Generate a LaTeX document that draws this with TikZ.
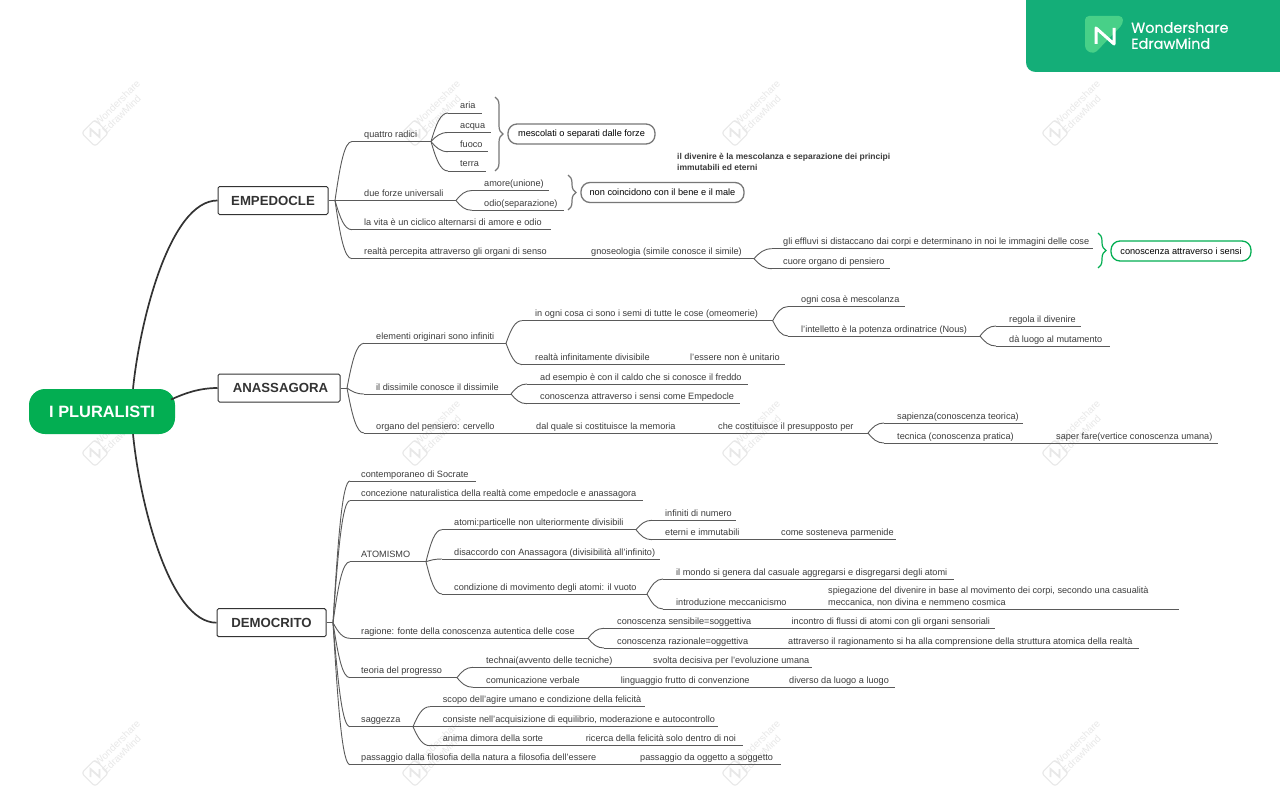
\documentclass[tikz,border=0pt]{standalone}
\usepackage{fontspec}
\usepackage{xcolor}
\usepackage{tikz}
\usetikzlibrary{calc,decorations.pathreplacing}
\setmainfont{Liberation Sans}
\newfontfamily\brandfont[FakeBold=0.35]{Poppins}
\definecolor{rootgreen}{HTML}{03AE52}
\definecolor{bannergreen}{HTML}{14AE78}
\definecolor{logogreen}{HTML}{48D088}
\definecolor{trunk}{HTML}{333333}
\definecolor{branch}{HTML}{5A5A5A}
\definecolor{lbltext}{HTML}{3C3C3C}
\definecolor{boxline}{HTML}{777777}
\definecolor{wmgray}{HTML}{E8E8E8}
\tikzset{
  rootBox/.style={rectangle, rounded corners=16pt, fill=rootgreen, text=white, minimum width=146, minimum height=45, inner sep=0pt, font=\fontsize{16.4}{20}\selectfont\bfseries},
  mainBox/.style={rectangle, draw=trunk, fill=white, rounded corners=1.5pt, line width=1pt, minimum height=28, inner sep=0pt, text=trunk, font=\fontsize{13.2}{15}\selectfont\bfseries},
  trunkLine/.style={draw=trunk, line width=1.7pt},
  branchLine/.style={draw=branch, line width=0.9pt},
  topicLbl/.style={anchor=base west, inner sep=0pt, text=lbltext, align=left, font=\fontsize{9.15}{11.5}\selectfont},
  sumBox/.style={rectangle, draw=boxline, rounded corners=9pt, line width=1.3pt, minimum height=20, inner sep=0pt, font=\fontsize{9.2}{11}\selectfont},
  noteLbl/.style={anchor=north west, inner sep=0pt, text=lbltext, align=left, font=\fontsize{8.5}{10.6}\selectfont\bfseries},
  bracket/.style={draw=#1, line width=1.2pt, decorate, decoration={brace, amplitude=8pt}},
  wmLbl/.style={rotate=45, text=wmgray, align=left, inner sep=0pt, font=\fontsize{10}{11}\selectfont},
  wmLogo/.style={rectangle, draw=wmgray, rotate=45, rounded corners=3pt, line width=1.1pt, minimum size=19, inner sep=0pt},
  wmMark/.style={draw=wmgray, line width=1.8pt},
}
\newcommand{\Topic}[6]{%
  \coordinate (#1-s) at (#2,#5);
  \coordinate (#1-e) at (#4,#5);
  \draw[branchLine] (#1-s) -- (#1-e);
  \node[topicLbl] (#1) at (#3,#5-4) {#6};
}
\newcommand{\Fork}[2]{%
  \draw[branchLine] let \p1=(#1), \p2=(#2) in (\p1)
    .. controls ({\x1+0.3*(\x2-\x1)},{\y1+0.6*(\y2-\y1)}) and ({\x1+0.55*(\x2-\x1)},\y2) .. (\p2);
}
\begin{document}
\begin{tikzpicture}[x=1pt, y=-1pt]
  \useasboundingbox (0,0) rectangle (1280,789);
  \fill[white] (0,0) rectangle (1280,789);

  % watermarks
  \foreach \wx in {95,415,735,1055} {
    \foreach \wy in {133,453,773} {
      \node[wmLogo] (wmL-\wx-\wy) at (\wx,\wy) {};
      \draw[wmMark] ($(wmL-\wx-\wy)+(-4.5,4)$) -- ($(wmL-\wx-\wy)+(-4.5,-4)$) -- ($(wmL-\wx-\wy)+(4.5,4)$) -- ($(wmL-\wx-\wy)+(4.5,-4)$);
      \node[wmLbl] (wmT-\wx-\wy) at (\wx+26,\wy-26) {Wondershare\\EdrawMind};
    }
  }

  % banner
  \fill[bannergreen] (1026,0) -- (1026,62) .. controls (1026,68) and (1030,72) .. (1036,72) -- (1280,72) -- (1280,0) -- cycle;
  \fill[logogreen, rounded corners=4pt] (1085,16) -- (1123,16) -- (1123,24) -- (1094,54) -- (1085,50) -- cycle;
  \draw[white, line width=3pt, line join=round] (1096,44) -- (1096,28) -- (1114,44) -- (1114,28);
  \node[anchor=west, inner sep=0pt, text=white, align=left, font=\brandfont\fontsize{14.4}{16}\selectfont] (brand) at (1131,35.5) {Wondershare\\EdrawMind};

  % center and main topics
  \node[rootBox] (root) at (102,411.5) {I PLURALISTI};
  \node[mainBox, minimum width=110] (emp) at (273,200.5) {EMPEDOCLE};
  \node[mainBox, minimum width=122] (ana) at (279,388) {\hspace{3pt}ANASSAGORA};
  \node[mainBox, minimum width=109] (dem) at (271.5,622.7) {DEMOCRITO};
  \draw[trunkLine] ($(root.north)+(31,0)$) .. controls (140,320) and (170,200.5) .. (emp.west);
  \draw[trunkLine] ($(root.east)+(-4,-12)$) .. controls (185,393) and (200,388) .. (ana.west);
  \draw[trunkLine] ($(root.south)+(31,0)$) .. controls (140,505) and (170,622.7) .. (dem.west);

  % EMPEDOCLE
  \coordinate (empF) at (335,200.5);
  \draw[branchLine] (emp.east) -- (empF);
  \Topic{radici}{352}{364}{431}{141.5}{quattro radici}
  \Topic{aria}{448}{460}{482}{113}{aria}
  \Topic{acqua}{448}{460}{491}{132.5}{acqua}
  \Topic{fuoco}{448}{460}{488}{151.7}{fuoco}
  \Topic{terra}{448}{460}{486}{171}{terra}
  \Topic{forze}{335}{364}{456}{200.5}{due forze universali}
  \Topic{amore}{472}{484}{549}{190.5}{amore(unione)}
  \Topic{odio}{472}{484}{564}{210.3}{odio(separazione)}
  \Topic{vita}{352}{364}{551}{229.7}{la vita è un ciclico alternarsi di amore e odio}
  \Topic{realta}{352}{364}{585}{258.7}{realtà percepita attraverso gli organi di senso}
  \Topic{gnoseo}{585}{591}{754}{258.7}{gnoseologia (simile conosce il simile)}
  \Topic{effluvi}{772}{783}{1093}{248.7}{gli effluvi si distaccano dai corpi e determinano in noi le immagini delle cose}
  \Topic{cuore}{772}{783}{890}{268.7}{cuore organo di pensiero}
  \Fork{empF}{radici-s}
  \Fork{empF}{vita-s}
  \Fork{empF}{realta-s}
  \Fork{radici-e}{aria-s}
  \Fork{radici-e}{acqua-s}
  \Fork{radici-e}{fuoco-s}
  \Fork{radici-e}{terra-s}
  \Fork{forze-e}{amore-s}
  \Fork{forze-e}{odio-s}
  \Fork{gnoseo-e}{effluvi-s}
  \Fork{gnoseo-e}{cuore-s}
  \node[noteLbl] (divenire) at (677,153.5) {il divenire è la mescolanza e separazione dei principi\\immutabili ed eterni};

  \coordinate (brA1) at (495,97);
  \coordinate (brA2) at (495,171);
  \coordinate (brB1) at (568,175);
  \coordinate (brB2) at (568,210);
  \coordinate (brC1) at (1098,233);
  \coordinate (brC2) at (1098,268);
  \draw[bracket=boxline] (brA1) -- (brA2);
  \draw[bracket=boxline] (brB1) -- (brB2);
  \draw[bracket=rootgreen] (brC1) -- (brC2);
  \node[sumBox, minimum width=147] (mesc) at (581.5,134) {mescolati o separati dalle forze};
  \node[sumBox, minimum width=163] (nonco) at (662.5,192.5) {non coincidono con il bene e il male};
  \node[sumBox, draw=rootgreen, minimum width=140] (cono) at (1181,251) {conoscenza attraverso i sensi};

  % ANASSAGORA
  \coordinate (anaF) at (347,388);
  \draw[branchLine] (ana.east) -- (anaF);
  \Topic{elem}{364}{376}{506}{343.3}{elementi originari sono infiniti}
  \Topic{semi}{522}{535}{772.7}{320.7}{in ogni cosa ci sono i semi di tutte le cose (omeomerie)}
  \Topic{ogni}{788}{801}{905}{306.6}{ogni cosa è mescolanza}
  \Topic{intel}{788}{801}{980}{336}{l'intelletto è la potenza ordinatrice (Nous)}
  \Topic{regola}{996}{1009}{1081}{326}{regola il divenire}
  \Topic{luogo}{996}{1009}{1110}{346}{dà luogo al mutamento}
  \Topic{divis}{522}{535}{685}{364.7}{realtà infinitamente divisibile}
  \Topic{unit}{685}{690}{784.5}{364.7}{l'essere non è unitario}
  \Topic{diss}{364}{376}{511}{394}{il dissimile conosce il dissimile}
  \Topic{esem}{527}{540}{748}{384}{ad esempio è con il caldo che si conosce il freddo}
  \Topic{attr}{527}{540}{739.5}{403.7}{conoscenza attraverso i sensi come Empedocle}
  \Topic{organo}{364}{376}{530}{433}{organo del pensiero: cervello}
  \Topic{memo}{530}{536}{712}{433}{dal quale si costituisce la memoria}
  \Topic{pres}{712}{718}{868}{433}{che costituisce il presupposto per}
  \Topic{sap}{884}{897}{1023}{423}{sapienza(conoscenza teorica)}
  \Topic{tec}{884}{897}{1050}{443}{tecnica (conoscenza pratica)}
  \Topic{saper}{1050}{1056}{1218}{443}{saper fare(vertice conoscenza umana)}
  \Fork{anaF}{elem-s}
  \Fork{anaF}{diss-s}
  \Fork{anaF}{organo-s}
  \Fork{elem-e}{semi-s}
  \Fork{elem-e}{divis-s}
  \Fork{semi-e}{ogni-s}
  \Fork{semi-e}{intel-s}
  \Fork{intel-e}{regola-s}
  \Fork{intel-e}{luogo-s}
  \Fork{diss-e}{esem-s}
  \Fork{diss-e}{attr-s}
  \Fork{pres-e}{sap-s}
  \Fork{pres-e}{tec-s}

  % DEMOCRITO
  \coordinate (demF) at (333,622.7);
  \draw[branchLine] (dem.east) -- (demF);
  \Topic{socr}{350}{361}{476}{481}{contemporaneo di Socrate}
  \Topic{natur}{350}{361}{643}{500.7}{concezione naturalistica della realtà come empedocle e anassagora}
  \Topic{atom}{350}{361}{426}{561.7}{ATOMISMO}
  \Topic{part}{442}{454}{636}{529.7}{atomi:particelle non ulteriormente divisibili}
  \Topic{num}{652}{665}{736}{520.3}{infiniti di numero}
  \Topic{eter}{652}{665}{776}{539.7}{eterni e immutabili}
  \Topic{parm}{776}{781}{896}{539.7}{come sosteneva parmenide}
  \Topic{disac}{442}{454}{660}{559}{disaccordo con Anassagora (divisibilità all'infinito)}
  \Topic{vuoto}{442}{454}{647}{594}{condizione di movimento degli atomi: il vuoto}
  \Topic{mondo}{663}{676}{954}{579}{il mondo si genera dal casuale aggregarsi e disgregarsi degli atomi}
  \Topic{mecc}{663}{676}{822}{609}{introduzione meccanicismo}
  \Topic{spieg}{822}{828}{1179}{609}{spiegazione del divenire in base al movimento dei corpi, secondo una casualità\\meccanica, non divina e nemmeno cosmica}
  \Topic{rag}{350}{361}{588}{638.3}{ragione: fonte della conoscenza autentica delle cose}
  \Topic{sens}{604}{617}{786}{628.3}{conoscenza sensibile=soggettiva}
  \Topic{flussi}{786}{791.5}{995}{628.3}{incontro di flussi di atomi con gli organi sensoriali}
  \Topic{raz}{604}{617}{783}{648}{conoscenza razionale=oggettiva}
  \Topic{strut}{783}{788}{1139}{648}{attraverso il ragionamento si ha alla comprensione della struttura atomica della realtà}
  \Topic{prog}{350}{361}{457}{677.7}{teoria del progresso}
  \Topic{tech}{473}{486}{648}{667.3}{technai(avvento delle tecniche)}
  \Topic{svol}{648}{653}{812}{667.3}{svolta decisiva per l'evoluzione umana}
  \Topic{verb}{473}{486}{616}{687.3}{comunicazione verbale}
  \Topic{ling}{616}{620.7}{785}{687.3}{linguaggio frutto di convenzione}
  \Topic{dive}{785}{789}{895}{687.3}{diverso da luogo a luogo}
  \Topic{sag}{350}{361}{413}{726.7}{saggezza}
  \Topic{scopo}{430}{442.7}{645}{706.7}{scopo dell'agire umano e condizione della felicità}
  \Topic{consi}{413}{442.7}{717.7}{726.7}{consiste nell'acquisizione di equilibrio, moderazione e autocontrollo}
  \Topic{anima}{430}{442.7}{581}{745.7}{anima dimora della sorte}
  \Topic{ricer}{581}{585.7}{742.7}{745.7}{ricerca della felicità solo dentro di noi}
  \Topic{pass}{350}{361}{635}{764.7}{passaggio dalla filosofia della natura a filosofia dell'essere}
  \Topic{ogge}{635}{640}{780.7}{764.7}{passaggio da oggetto a soggetto}
  \Fork{demF}{socr-s}
  \Fork{demF}{natur-s}
  \Fork{demF}{atom-s}
  \Fork{demF}{rag-s}
  \Fork{demF}{prog-s}
  \Fork{demF}{sag-s}
  \Fork{demF}{pass-s}
  \Fork{atom-e}{part-s}
  \Fork{atom-e}{disac-s}
  \Fork{atom-e}{vuoto-s}
  \Fork{part-e}{num-s}
  \Fork{part-e}{eter-s}
  \Fork{vuoto-e}{mondo-s}
  \Fork{vuoto-e}{mecc-s}
  \Fork{rag-e}{sens-s}
  \Fork{rag-e}{raz-s}
  \Fork{prog-e}{tech-s}
  \Fork{prog-e}{verb-s}
  \Fork{sag-e}{scopo-s}
  \Fork{sag-e}{anima-s}
\end{tikzpicture}
\end{document}
